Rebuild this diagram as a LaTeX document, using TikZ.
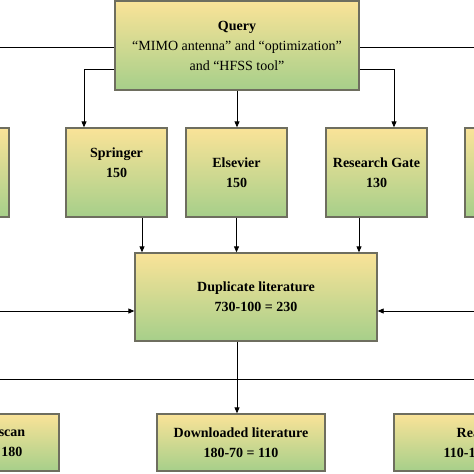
\documentclass[tikz,border=0pt]{standalone}
\usepackage{fontspec}
\setmainfont{Liberation Serif}
\usetikzlibrary{arrows.meta}
\definecolor{boxtop}{RGB}{250,227,152}
\definecolor{boxbot}{RGB}{166,207,138}
\definecolor{boxedge}{RGB}{110,110,95}
\tikzset{
  srcbox/.style={draw=boxedge, line width=1.3pt, top color=boxtop, bottom color=boxbot, inner sep=0pt},
  tallbox/.style={minimum width=101pt, minimum height=89pt},
  widebox/.style={minimum width=168pt, minimum height=57pt},
  lbl/.style={font=\fontsize{14}{20}\selectfont\bfseries, align=center},
  arr/.style={-{Triangle[length=6pt,width=5pt]}},
}

\begin{document}
\begin{tikzpicture}[x=1pt,y=-1pt,line width=0.8pt]
\useasboundingbox (0,0) rectangle (474,474);
\clip (0,0) rectangle (474,474);
\node[srcbox, minimum width=244pt, minimum height=89pt, font=\fontsize{14}{20}\selectfont, align=center] (query) at (237,45.5) {\textbf{Query}\\“MIMO antenna” and “optimization”\\and “HFSS tool”};
\node[srcbox, tallbox] (left) at (-41.5,172.5) {};
\node[srcbox, tallbox] (springer) at (116.5,172.5) {};
\node[lbl] (springertxt) at ([yshift=10pt]springer.center) {Springer\\150};
\node[srcbox, tallbox, lbl] (elsevier) at (236.5,172.5) {Elsevier\\150};
\node[srcbox, tallbox, lbl] (rgate) at (376.5,172.5) {Research Gate\\130};
\node[srcbox, tallbox] (right) at (515.5,172.5) {};
\node[srcbox, minimum width=242pt, minimum height=88pt, lbl] (dup) at (256,297) {Duplicate literature\\730-100 = 230};
\node[srcbox, widebox] (scan) at (-25,442.5) {};
\node[lbl] (scantxt) at (12,443) {scan\\180};
\node[srcbox, widebox, lbl] (down) at (241,442.5) {Downloaded literature\\180-70 = 110};
\node[srcbox, widebox] (read) at (478,442.5) {};
\node[lbl, anchor=west] (readtxt) at (453,433) {Rea};
\node[lbl, anchor=west] (readnum) at (440,453) {110-1};

\coordinate (qL) at (0,47);
\coordinate (qR) at (474,47);
\draw (qL) -- (qL -| query.west);
\draw (qR) -- (qR -| query.east);
\draw[arr] ([yshift=-23.5pt]query.west) -| ([xshift=-32.5pt]springer.north);
\draw[arr] ([yshift=-23.5pt]query.east) -| ([xshift=17.5pt]rgate.north);
\draw[arr] (query.south) -- (query.south |- elsevier.north);
\draw[arr] ([xshift=25.5pt]springer.south) -- ([xshift=25.5pt]springer.south |- dup.north);
\draw[arr] (elsevier.south) -- (elsevier.south |- dup.north);
\draw[arr] ([xshift=-17.5pt]rgate.south) -- ([xshift=-17.5pt]rgate.south |- dup.north);
\coordinate (dL) at (0,311);
\coordinate (dR) at (474,311);
\draw[arr] (dL) -- (dL -| dup.west);
\draw[arr] (dR) -- (dR -| dup.east);
\coordinate (bL) at (0,379);
\coordinate (bR) at (474,379);
\draw (bL) -- (bR);
\draw[arr] ([xshift=-19pt]dup.south) -- ([xshift=-19pt]dup.south |- down.north);
\end{tikzpicture}
\end{document}
